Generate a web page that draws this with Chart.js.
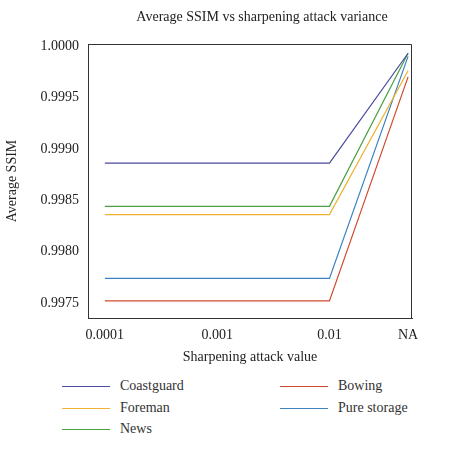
<!DOCTYPE html><html><head><meta charset="utf-8">
<script src="https://cdn.jsdelivr.net/npm/chart.js@4"></script>
<style>body{margin:0;background:#fff;font-family:"Liberation Serif",serif;}
#wrap{position:relative;width:474px;height:370px}
#title{position:absolute;left:112px;width:300px;top:9px;text-align:center;font-size:14px;color:#222;white-space:nowrap}
.lg{position:absolute;font-size:14px;color:#333;display:flex;align-items:center}
.lg span{display:inline-block;width:48px;height:0;border-top:1.4px solid;margin-right:10px}
</style></head><body>
<div id="wrap"><canvas id="c" width="474" height="370"></canvas><div id="title">Average SSIM vs sharpening attack variance</div></div>
<script>
const tickLabels=["0.0001","0.001","0.01","NA"];
const tickPos=[0,1,2,2.7];
const seriesNames=["Coastguard","Foreman","News","Bowing","Pure storage"];
const colors=["#4a4aa0","#f0b030","#48a040","#d04a30","#3a82c0"];
const coastguard=[0.99886,0.99886,0.99886,0.99993];
const foreman=[0.99836,0.99836,0.99836,0.99976];
const news=[0.99844,0.99844,0.99844,0.99993];
const bowing=[0.99752,0.99752,0.99752,0.99970];
const pureStorage=[0.99774,0.99774,0.99774,0.99990];
const allData=[coastguard,foreman,news,bowing,pureStorage];
const F="'Liberation Serif', serif";
new Chart(document.getElementById('c'),{type:'line',
data:{datasets:allData.map((d,i)=>({label:seriesNames[i],data:d.map((v,j)=>({x:tickPos[j],y:v})),borderColor:colors[i],borderWidth:1.2,pointRadius:0,tension:0}))},
options:{responsive:false,animation:false,layout:{padding:{top:44,right:62,bottom:0,left:0}},
plugins:{legend:{display:false},title:{display:false}},
scales:{x:{type:'linear',min:-0.15,max:2.735,afterBuildTicks:s=>{s.ticks=tickPos.map(v=>({value:v}))},
ticks:{callback:(v)=>tickLabels[tickPos.indexOf(v)],font:{family:F,size:14},color:'#222',maxRotation:0,autoSkip:false},
grid:{display:false,drawTicks:true,tickLength:6,tickColor:'#333'},border:{color:'#333'},
title:{display:true,text:'Sharpening attack value',font:{family:F,size:14},color:'#222',padding:{top:2}},afterFit:s=>{s.height=52}},
y:{min:0.997354,max:1.00002,afterBuildTicks:s=>{s.ticks=[0.9975,0.998,0.9985,0.999,0.9995,1.0].map(v=>({value:v}))},
ticks:{callback:v=>v.toFixed(4),font:{family:F,size:14},color:'#222'},
grid:{display:false,tickLength:6,tickColor:'#333'},border:{color:'#333'},
title:{display:true,text:'Average SSIM',font:{family:F,size:14},color:'#222'},afterFit:s=>{s.width=88}}}},
plugins:[{id:'box',afterDraw(c){const a=c.chartArea,x=c.ctx;x.save();x.strokeStyle='#333';x.lineWidth=1;x.beginPath();x.moveTo(a.left,a.top+0.5);x.lineTo(a.right-0.5,a.top+0.5);x.lineTo(a.right-0.5,a.bottom);x.stroke();x.restore();}}]
});
const pos=[[62,387],[62,409],[62,430],[280,387],[280,409]];
seriesNames.forEach((n,i)=>{const d=document.createElement('div');d.className='lg';d.style.left=pos[i][0]+'px';d.style.top=(pos[i][1]-9)+'px';d.innerHTML='<span style="border-color:'+colors[i]+'"></span>'+n;document.body.appendChild(d);});
</script></body></html>
